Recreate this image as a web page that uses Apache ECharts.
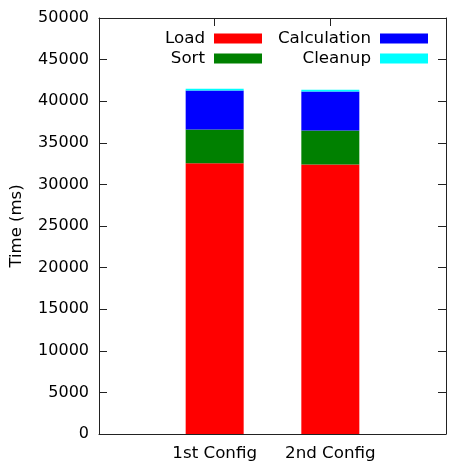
<!DOCTYPE html>
<html>
<head>
<meta charset="utf-8">
<script src="https://cdn.jsdelivr.net/npm/echarts@6/dist/echarts.min.js"></script>
<style>
html,body{margin:0;padding:0;background:#fff;}
#chart{width:474px;height:474px;}
</style>
</head>
<body>
<div id="chart"></div>
<script>
const categories = ['1st Config', '2nd Config'];
const loadValues = [32550, 32390];
const sortValues = [4050, 4090];
const calculationValues = [4700, 4700];
const cleanupValues = [200, 190];
const yTicks = { min: 0, max: 50000, interval: 5000 };

const FONT = 'DejaVu Sans';
const AXIS_COLOR = '#222';

// pad an empty slot on each side so the categories sit at 1/3 and 2/3 of the frame
const axisCategories = [''].concat(categories, ['']);
function padded(arr) { return [null].concat(arr, [null]); }

const seriesDefs = [
  { name: 'Load', data: loadValues, color: '#ff0000' },
  { name: 'Sort', data: sortValues, color: '#008000' },
  { name: 'Calculation', data: calculationValues, color: '#0000ff' },
  { name: 'Cleanup', data: cleanupValues, color: '#00ffff' }
];

function legendFor(name, right, top) {
  return {
    data: [name],
    right: right,
    top: top,
    padding: 0,
    align: 'right',
    icon: 'rect',
    itemWidth: 48,
    itemHeight: 10,
    selectedMode: false,
    textStyle: { fontFamily: FONT, fontSize: 16.7, color: '#000', padding: [0, 4, 0, 0] }
  };
}

const lineStyle = { color: AXIS_COLOR, width: 1 };

const chart = echarts.init(document.getElementById('chart'), null, { renderer: 'canvas' });
chart.setOption({
  animation: false,
  backgroundColor: '#fff',
  grid: { left: 98, right: 28, top: 18, bottom: 40 },
  legend: [
    legendFor('Load', 212, 30),
    legendFor('Sort', 212, 50),
    legendFor('Calculation', 46, 30),
    legendFor('Cleanup', 46, 50)
  ],
  xAxis: [
    {
      type: 'category', data: axisCategories, boundaryGap: false, position: 'bottom',
      axisLine: { show: true, onZero: false, lineStyle: lineStyle },
      axisTick: { show: true, inside: true, length: 8, lineStyle: lineStyle },
      splitLine: { show: false },
      axisLabel: { fontFamily: FONT, fontSize: 16.7, color: '#000', margin: 11, interval: 0 }
    },
    {
      type: 'category', data: axisCategories, boundaryGap: false, position: 'top',
      axisLine: { show: true, onZero: false, lineStyle: lineStyle },
      axisTick: { show: true, inside: true, length: 8, lineStyle: lineStyle },
      splitLine: { show: false },
      axisLabel: { show: false }
    }
  ],
  yAxis: [
    {
      type: 'value', min: yTicks.min, max: yTicks.max, interval: yTicks.interval, position: 'left',
      name: 'Time (ms)', nameLocation: 'middle', nameGap: 74,
      nameTextStyle: { fontFamily: FONT, fontSize: 16.5, color: '#000' },
      axisLine: { show: true, onZero: false, lineStyle: lineStyle },
      axisTick: { show: true, inside: true, length: 8, lineStyle: lineStyle },
      splitLine: { show: false },
      axisLabel: { fontFamily: FONT, fontSize: 16, color: '#000', margin: 10, formatter: v => String(v) }
    },
    {
      type: 'value', min: yTicks.min, max: yTicks.max, interval: yTicks.interval, position: 'right',
      axisLine: { show: true, onZero: false, lineStyle: lineStyle },
      axisTick: { show: true, inside: true, length: 8, lineStyle: lineStyle },
      splitLine: { show: false },
      axisLabel: { show: false }
    }
  ],
  series: seriesDefs.map(s => ({
    name: s.name,
    type: 'bar',
    stack: 'total',
    xAxisIndex: 0,
    yAxisIndex: 0,
    barWidth: 58,
    itemStyle: { color: s.color },
    data: padded(s.data)
  }))
});
</script>
</body>
</html>
